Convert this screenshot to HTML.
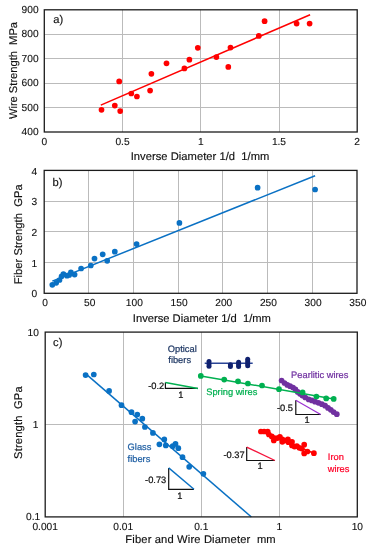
<!DOCTYPE html>
<html lang="en"><head><meta charset="utf-8"><title>Strength vs diameter</title>
<style>html,body{margin:0;padding:0;background:#fff}body{width:370px;height:550px;overflow:hidden}svg{display:block}text{font-family:"Liberation Sans",sans-serif;fill:#111;text-rendering:geometricPrecision}.tk{font-size:10.2px}.ti{font-size:11.2px}.an{font-size:9.3px}.pl{font-size:11.2px}</style></head><body>
<svg width="370" height="550" viewBox="0 0 370 550">
<rect width="370" height="550" fill="#fff"/>
<path d="M122.5 9.8V132.0M200.5 9.8V132.0M279.5 9.8V132.0M44.3 34.5H357.2M44.3 58.5H357.2M44.3 83.5H357.2M44.3 107.5H357.2" stroke="#bbbbbb" stroke-width="1" fill="none"/>
<line x1="100.8" y1="105.1" x2="310.1" y2="14.7" stroke="#ff0000" stroke-width="1.5"/>
<g fill="#ff0000"><circle cx="101.5" cy="109.8" r="2.85"/><circle cx="114.8" cy="105.6" r="2.85"/><circle cx="119.2" cy="81.4" r="2.85"/><circle cx="120.2" cy="111.1" r="2.85"/><circle cx="131.3" cy="93.5" r="2.85"/><circle cx="136.9" cy="96.5" r="2.85"/><circle cx="150.1" cy="90.6" r="2.85"/><circle cx="151.4" cy="73.8" r="2.85"/><circle cx="166.5" cy="63.3" r="2.85"/><circle cx="184.4" cy="68.4" r="2.85"/><circle cx="189.4" cy="59.7" r="2.85"/><circle cx="197.8" cy="47.8" r="2.85"/><circle cx="216.4" cy="57.1" r="2.85"/><circle cx="228.3" cy="66.9" r="2.85"/><circle cx="230.5" cy="47.6" r="2.85"/><circle cx="258.8" cy="35.9" r="2.85"/><circle cx="264.6" cy="21.2" r="2.85"/><circle cx="296.6" cy="23.6" r="2.85"/><circle cx="309.6" cy="23.6" r="2.85"/></g>
<rect x="44.3" y="9.8" width="312.9" height="122.2" fill="none" stroke="#1c1c1c" stroke-width="1.3"/>
<text x="38.6" y="12.9" class="tk" text-anchor="end" style="fill:#111;stroke:#111;stroke-width:0.12">900</text>
<text x="38.6" y="37.34" class="tk" text-anchor="end" style="fill:#111;stroke:#111;stroke-width:0.12">800</text>
<text x="38.6" y="61.78000000000001" class="tk" text-anchor="end" style="fill:#111;stroke:#111;stroke-width:0.12">700</text>
<text x="38.6" y="86.22" class="tk" text-anchor="end" style="fill:#111;stroke:#111;stroke-width:0.12">600</text>
<text x="38.6" y="110.66" class="tk" text-anchor="end" style="fill:#111;stroke:#111;stroke-width:0.12">500</text>
<text x="38.6" y="135.1" class="tk" text-anchor="end" style="fill:#111;stroke:#111;stroke-width:0.12">400</text>
<text x="44.3" y="145.1" class="tk" text-anchor="middle" style="fill:#111;stroke:#111;stroke-width:0.12">0</text>
<text x="122.52499999999999" y="145.1" class="tk" text-anchor="middle" style="fill:#111;stroke:#111;stroke-width:0.12">0.5</text>
<text x="200.75" y="145.1" class="tk" text-anchor="middle" style="fill:#111;stroke:#111;stroke-width:0.12">1</text>
<text x="278.97499999999997" y="145.1" class="tk" text-anchor="middle" style="fill:#111;stroke:#111;stroke-width:0.12">1.5</text>
<text x="357.2" y="145.1" class="tk" text-anchor="middle" style="fill:#111;stroke:#111;stroke-width:0.12">2</text>
<text x="130.7" y="159.7" class="ti" style="stroke:#111;stroke-width:0.15" textLength="138.6" lengthAdjust="spacing" xml:space="preserve">Inverse Diameter 1/d  1/mm</text>
<text transform="translate(17.0 119.1) rotate(-90)" class="ti" style="stroke:#111;stroke-width:0.15" textLength="97.2" lengthAdjust="spacing" xml:space="preserve">Wire Strength  MPa</text>
<text x="53.2" y="23.3" class="pl" text-anchor="start" style="fill:#111;stroke:#111;stroke-width:0.15">a)</text>
<path d="M88.5 170.4V293.3M133.5 170.4V293.3M178.5 170.4V293.3M222.5 170.4V293.3M267.5 170.4V293.3M312.5 170.4V293.3M44.2 201.5H357.0M44.2 231.5H357.0M44.2 262.5H357.0" stroke="#bbbbbb" stroke-width="1" fill="none"/>
<line x1="52.3" y1="281.1" x2="315.1" y2="175.7" stroke="#0a71c4" stroke-width="1.5"/>
<g fill="#0a71c4"><circle cx="52.3" cy="284.8" r="2.85"/><circle cx="56.2" cy="282.8" r="2.85"/><circle cx="59.5" cy="280.0" r="2.85"/><circle cx="61.6" cy="276.3" r="2.85"/><circle cx="63.4" cy="274.2" r="2.85"/><circle cx="67.0" cy="275.7" r="2.85"/><circle cx="69.2" cy="275.0" r="2.85"/><circle cx="70.9" cy="272.4" r="2.85"/><circle cx="74.6" cy="274.6" r="2.85"/><circle cx="81.1" cy="268.5" r="2.85"/><circle cx="90.8" cy="265.5" r="2.85"/><circle cx="94.5" cy="258.6" r="2.85"/><circle cx="102.7" cy="254.3" r="2.85"/><circle cx="107.2" cy="260.8" r="2.85"/><circle cx="114.8" cy="251.7" r="2.85"/><circle cx="136.6" cy="244.1" r="2.85"/><circle cx="179.4" cy="222.9" r="2.85"/><circle cx="257.6" cy="187.7" r="2.85"/><circle cx="315.1" cy="189.5" r="2.85"/></g>
<rect x="44.2" y="170.4" width="312.8" height="122.9" fill="none" stroke="#1c1c1c" stroke-width="1.3"/>
<text x="37.2" y="174.5" class="tk" text-anchor="end" style="fill:#111;stroke:#111;stroke-width:0.12">4</text>
<text x="37.2" y="205.225" class="tk" text-anchor="end" style="fill:#111;stroke:#111;stroke-width:0.12">3</text>
<text x="37.2" y="235.95000000000002" class="tk" text-anchor="end" style="fill:#111;stroke:#111;stroke-width:0.12">2</text>
<text x="37.2" y="266.67500000000007" class="tk" text-anchor="end" style="fill:#111;stroke:#111;stroke-width:0.12">1</text>
<text x="37.2" y="297.40000000000003" class="tk" text-anchor="end" style="fill:#111;stroke:#111;stroke-width:0.12">0</text>
<text x="45.0" y="306.3" class="tk" text-anchor="middle" style="fill:#111;stroke:#111;stroke-width:0.12">0</text>
<text x="89.6857142857143" y="306.3" class="tk" text-anchor="middle" style="fill:#111;stroke:#111;stroke-width:0.12">50</text>
<text x="134.3714285714286" y="306.3" class="tk" text-anchor="middle" style="fill:#111;stroke:#111;stroke-width:0.12">100</text>
<text x="179.05714285714288" y="306.3" class="tk" text-anchor="middle" style="fill:#111;stroke:#111;stroke-width:0.12">150</text>
<text x="223.7428571428572" y="306.3" class="tk" text-anchor="middle" style="fill:#111;stroke:#111;stroke-width:0.12">200</text>
<text x="268.42857142857144" y="306.3" class="tk" text-anchor="middle" style="fill:#111;stroke:#111;stroke-width:0.12">250</text>
<text x="313.11428571428576" y="306.3" class="tk" text-anchor="middle" style="fill:#111;stroke:#111;stroke-width:0.12">300</text>
<text x="357.8" y="306.3" class="tk" text-anchor="middle" style="fill:#111;stroke:#111;stroke-width:0.12">350</text>
<text x="132.8" y="321.6" class="ti" style="stroke:#111;stroke-width:0.15" textLength="138.1" lengthAdjust="spacing" xml:space="preserve">Inverse Diameter 1/d  1/mm</text>
<text transform="translate(22.4 284.3) rotate(-90)" class="ti" style="stroke:#111;stroke-width:0.15" textLength="100.0" lengthAdjust="spacing" xml:space="preserve">Fiber Strength  GPa</text>
<text x="52.6" y="185.9" class="pl" text-anchor="start" style="fill:#111;stroke:#111;stroke-width:0.15">b)</text>
<path d="M123.5 332.1V516.9M201.5 332.1V516.9M279.5 332.1V516.9M45.2 424.5H357.3" stroke="#bbbbbb" stroke-width="1" fill="none"/>
<line x1="87.3" y1="375.1" x2="251.4" y2="517" stroke="#0a71c4" stroke-width="1.5"/>
<g fill="#0a71c4"><circle cx="85.6" cy="375.1" r="2.85"/><circle cx="93.8" cy="374.5" r="2.85"/><circle cx="109.1" cy="390.9" r="2.85"/><circle cx="121.5" cy="405.2" r="2.85"/><circle cx="131.5" cy="412.2" r="2.85"/><circle cx="137.3" cy="414.5" r="2.85"/><circle cx="142.3" cy="418.7" r="2.85"/><circle cx="135.1" cy="421.6" r="2.85"/><circle cx="144.9" cy="427.0" r="2.85"/><circle cx="152.9" cy="432.9" r="2.85"/><circle cx="164.3" cy="439.4" r="2.85"/><circle cx="159.4" cy="444.3" r="2.85"/><circle cx="165.8" cy="445.4" r="2.85"/><circle cx="172.7" cy="446.2" r="2.85"/><circle cx="175.5" cy="443.9" r="2.85"/><circle cx="178.3" cy="448.2" r="2.85"/><circle cx="182.5" cy="457.2" r="2.85"/><circle cx="189.2" cy="466.8" r="2.85"/><circle cx="203.4" cy="473.8" r="2.85"/></g>
<line x1="204.7" y1="363.3" x2="252.7" y2="363.3" stroke="#2a4596" stroke-width="1.5"/>
<g fill="#10216f"><circle cx="209.0" cy="361.5" r="2.5"/><circle cx="209.0" cy="364.0" r="2.5"/><circle cx="209.0" cy="366.3" r="2.5"/><circle cx="230.4" cy="364.8" r="2.5"/><circle cx="230.4" cy="366.4" r="2.5"/><circle cx="238.6" cy="362.2" r="2.5"/><circle cx="238.6" cy="364.5" r="2.5"/><circle cx="238.6" cy="366.4" r="2.5"/><circle cx="247.7" cy="359.3" r="2.5"/><circle cx="247.7" cy="361.5" r="2.5"/><circle cx="247.7" cy="363.8" r="2.5"/><circle cx="247.7" cy="365.8" r="2.5"/></g>
<polyline points="281.6,380.5 284.5,383.0 287.3,384.9 290.1,386.2 293.0,387.5 295.4,389.4 297.7,391.9 300.0,393.8 302.4,395.6 305.3,397.5 308.7,399.4 311.9,400.4 315.1,401.7 318.5,402.8 321.9,404.2 325.1,405.7 328.0,407.9 330.8,409.8 333.6,412.1 336.8,414.2" fill="none" stroke="#7030a0" stroke-width="1.5"/>
<g fill="#7030a0"><circle cx="281.6" cy="380.5" r="2.85"/><circle cx="284.5" cy="383.0" r="2.85"/><circle cx="287.3" cy="384.9" r="2.85"/><circle cx="290.1" cy="386.2" r="2.85"/><circle cx="293.0" cy="387.5" r="2.85"/><circle cx="295.4" cy="389.4" r="2.85"/><circle cx="297.7" cy="391.9" r="2.85"/><circle cx="300.0" cy="393.8" r="2.85"/><circle cx="302.4" cy="395.6" r="2.85"/><circle cx="305.3" cy="397.5" r="2.85"/><circle cx="308.7" cy="399.4" r="2.85"/><circle cx="311.9" cy="400.4" r="2.85"/><circle cx="315.1" cy="401.7" r="2.85"/><circle cx="318.5" cy="402.8" r="2.85"/><circle cx="321.9" cy="404.2" r="2.85"/><circle cx="325.1" cy="405.7" r="2.85"/><circle cx="328.0" cy="407.9" r="2.85"/><circle cx="330.8" cy="409.8" r="2.85"/><circle cx="333.6" cy="412.1" r="2.85"/><circle cx="336.8" cy="414.2" r="2.85"/></g>
<line x1="200.8" y1="375.9" x2="333.7" y2="398.9" stroke="#00b050" stroke-width="1.5"/>
<g fill="#00b050"><circle cx="200.8" cy="375.9" r="2.85"/><circle cx="224.2" cy="379.6" r="2.85"/><circle cx="238.0" cy="381.3" r="2.85"/><circle cx="247.9" cy="383.5" r="2.85"/><circle cx="262.0" cy="385.5" r="2.85"/><circle cx="279.0" cy="389.2" r="2.85"/><circle cx="302.6" cy="392.4" r="2.85"/><circle cx="316.4" cy="396.5" r="2.85"/><circle cx="326.2" cy="398.4" r="2.85"/><circle cx="333.7" cy="398.9" r="2.85"/></g>
<line x1="260.8927268304549" y1="431.5409875942593" x2="313.9211870591097" y2="453.190221357334" stroke="#ff0000" stroke-width="1.5"/>
<g fill="#ff0000"><circle cx="260.9" cy="431.5" r="2.85"/><circle cx="264.1" cy="431.5" r="2.85"/><circle cx="267.7" cy="431.5" r="2.85"/><circle cx="268.9" cy="434.5" r="2.85"/><circle cx="271.8" cy="436.4" r="2.85"/><circle cx="274.3" cy="438.1" r="2.85"/><circle cx="273.8" cy="440.5" r="2.85"/><circle cx="277.4" cy="438.1" r="2.85"/><circle cx="279.9" cy="436.9" r="2.85"/><circle cx="282.3" cy="439.3" r="2.85"/><circle cx="282.3" cy="441.8" r="2.85"/><circle cx="284.7" cy="440.5" r="2.85"/><circle cx="287.9" cy="439.3" r="2.85"/><circle cx="288.4" cy="442.2" r="2.85"/><circle cx="292.0" cy="441.8" r="2.85"/><circle cx="292.0" cy="445.4" r="2.85"/><circle cx="294.5" cy="446.6" r="2.85"/><circle cx="296.9" cy="446.1" r="2.85"/><circle cx="299.3" cy="447.8" r="2.85"/><circle cx="301.8" cy="448.6" r="2.85"/><circle cx="304.2" cy="444.7" r="2.85"/><circle cx="304.2" cy="453.4" r="2.85"/><circle cx="307.4" cy="451.5" r="2.85"/><circle cx="313.9" cy="453.2" r="2.85"/></g>
<rect x="45.2" y="332.1" width="312.1" height="184.8" fill="none" stroke="#1c1c1c" stroke-width="1.3"/>
<path d="M168.7 467.9V489.3H194.0" fill="none" stroke="#111" stroke-width="1.2"/>
<line x1="168.7" y1="467.9" x2="194.0" y2="489.3" stroke="#0a71c4" stroke-width="1.4"/>
<path d="M165.4 382.6V388.4H197.9" fill="none" stroke="#111" stroke-width="1.2"/>
<line x1="165.4" y1="382.6" x2="197.9" y2="388.4" stroke="#00b050" stroke-width="1.5"/>
<path d="M295.8 400.2V414.5H320.7" fill="none" stroke="#111" stroke-width="1.2"/>
<line x1="295.8" y1="400.2" x2="320.7" y2="414.5" stroke="#9a2fd0" stroke-width="1.2"/>
<path d="M246.7 447.1V460.5H274.9" fill="none" stroke="#111" stroke-width="1.2"/>
<line x1="246.7" y1="447.1" x2="274.9" y2="460.5" stroke="#f5143c" stroke-width="1.3"/>
<text x="166.3" y="483.1" class="an" text-anchor="end" style="fill:#111;stroke:#111;stroke-width:0.22">-0.73</text>
<text x="179.9" y="499.1" class="an" text-anchor="middle" style="fill:#111;stroke:#111;stroke-width:0.22">1</text>
<text x="164.3" y="389.2" class="an" text-anchor="end" style="fill:#111;stroke:#111;stroke-width:0.22">-0.2</text>
<text x="180.8" y="397.8" class="an" text-anchor="middle" style="fill:#111;stroke:#111;stroke-width:0.22">1</text>
<text x="293" y="410.8" class="an" text-anchor="end" style="fill:#111;stroke:#111;stroke-width:0.22">-0.5</text>
<text x="307.0" y="423.4" class="an" text-anchor="middle" style="fill:#111;stroke:#111;stroke-width:0.22">1</text>
<text x="244.6" y="458" class="an" text-anchor="end" style="fill:#111;stroke:#111;stroke-width:0.22">-0.37</text>
<text x="260.2" y="468.5" class="an" text-anchor="middle" style="fill:#111;stroke:#111;stroke-width:0.22">1</text>
<text x="127.6" y="450.3" class="an" text-anchor="start" style="fill:#1f5fa3;stroke:#1f5fa3;stroke-width:0.22">Glass</text>
<text x="127.6" y="461.6" class="an" text-anchor="start" style="fill:#1f5fa3;stroke:#1f5fa3;stroke-width:0.22">fibers</text>
<text x="167.8" y="351.9" class="an" text-anchor="start" style="fill:#1f3864;stroke:#1f3864;stroke-width:0.22">Optical</text>
<text x="168.3" y="362.7" class="an" text-anchor="start" style="fill:#1f3864;stroke:#1f3864;stroke-width:0.22">fibers</text>
<text x="206.2" y="395.2" class="an" text-anchor="start" style="fill:#00b050;stroke:#00b050;stroke-width:0.22">Spring wires</text>
<text x="291.1" y="378.2" class="an" text-anchor="start" style="fill:#7030a0;stroke:#7030a0;stroke-width:0.22">Pearlitic wires</text>
<text x="327.8" y="460.3" class="an" text-anchor="start" style="fill:#ff0028;stroke:#ff0028;stroke-width:0.22">Iron</text>
<text x="327.7" y="471.6" class="an" text-anchor="start" style="fill:#ff0028;stroke:#ff0028;stroke-width:0.22">wires</text>
<text x="38.9" y="335.6" class="tk" text-anchor="end" style="fill:#111;stroke:#111;stroke-width:0.12">10</text>
<text x="38.4" y="428.0" class="tk" text-anchor="end" style="fill:#111;stroke:#111;stroke-width:0.12">1</text>
<text x="40.2" y="520.4" class="tk" text-anchor="end" style="fill:#111;stroke:#111;stroke-width:0.12">0.1</text>
<text x="45.2" y="530.2" class="tk" text-anchor="middle" style="fill:#111;stroke:#111;stroke-width:0.12">0.001</text>
<text x="123.22500000000001" y="530.2" class="tk" text-anchor="middle" style="fill:#111;stroke:#111;stroke-width:0.12">0.01</text>
<text x="201.25" y="530.2" class="tk" text-anchor="middle" style="fill:#111;stroke:#111;stroke-width:0.12">0.1</text>
<text x="279.27500000000003" y="530.2" class="tk" text-anchor="middle" style="fill:#111;stroke:#111;stroke-width:0.12">1</text>
<text x="357.3" y="530.2" class="tk" text-anchor="middle" style="fill:#111;stroke:#111;stroke-width:0.12">10</text>
<text x="125.3" y="543.1" class="ti" style="stroke:#111;stroke-width:0.15" textLength="150.4" lengthAdjust="spacing" xml:space="preserve">Fiber and Wire Diameter  mm</text>
<text transform="translate(22.0 458.9) rotate(-90)" class="ti" style="stroke:#111;stroke-width:0.15" textLength="72.6" lengthAdjust="spacing" xml:space="preserve">Strength  GPa</text>
<text x="53.1" y="345.5" class="pl" text-anchor="start" style="fill:#111;stroke:#111;stroke-width:0.15">c)</text>
</svg></body></html>
